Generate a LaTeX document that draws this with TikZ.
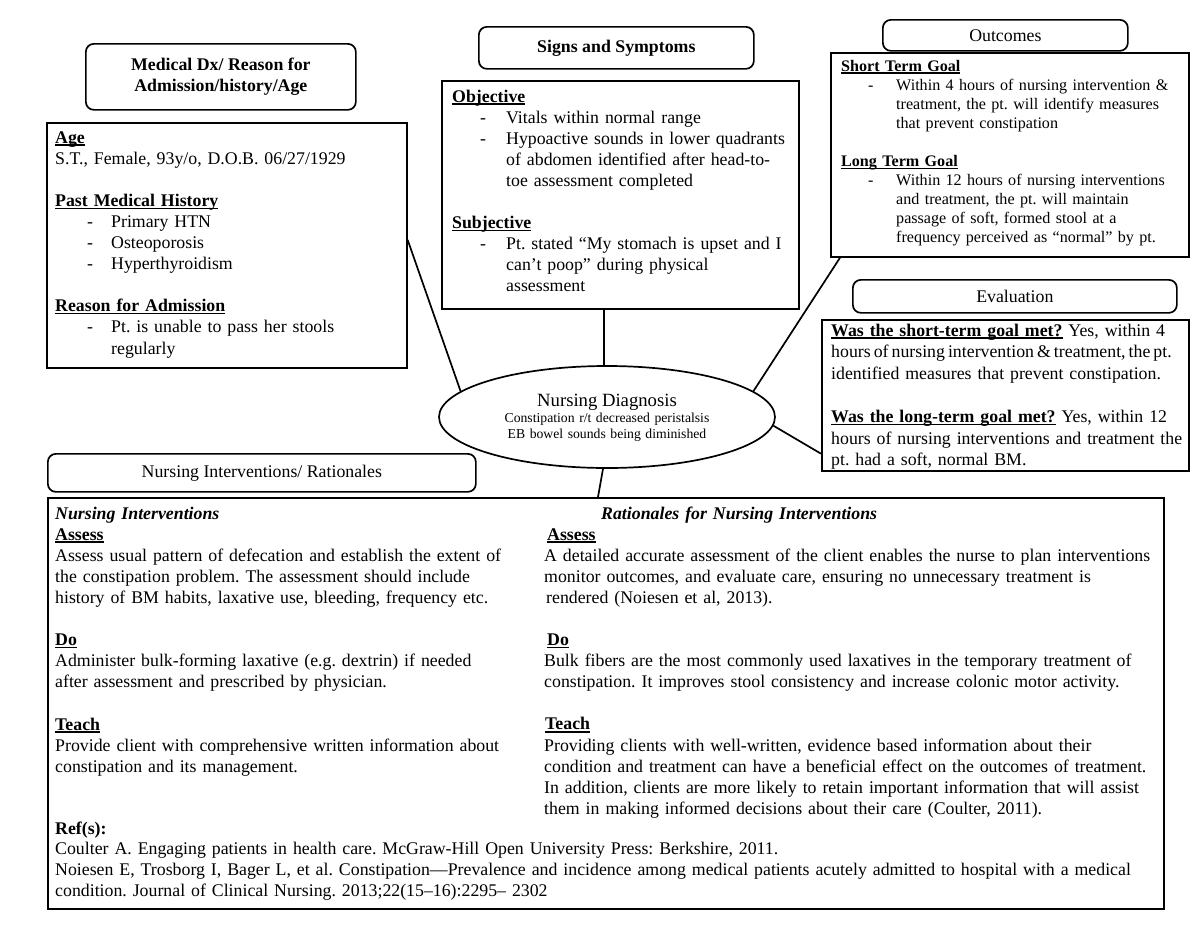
\documentclass[tikz,border=0pt]{standalone}
\usepackage{fontspec}
\setmainfont{Liberation Serif}
\usetikzlibrary{shapes.geometric}
\newcommand\fsN{\fontsize{17.8}{21.1}\selectfont}
\newcommand\fsO{\fontsize{16.1}{19.1}\selectfont}
\newcommand\fsS{\fontsize{13.7}{16}\selectfont}
\newcommand\fsD{\fontsize{18.7}{21}\selectfont}
\newcommand\ulin[1]{\setbox0\hbox{#1}\rlap{\rule[-2.6pt]{\wd0}{1.4pt}}\box0}
\newcommand\itmA[1]{\makebox[56pt][l]{\hspace*{32pt}-}#1}
\newcommand\itmS[1]{\makebox[54pt][l]{\hspace*{28pt}-}#1}
\newcommand\itmO[1]{\makebox[55pt][l]{\hspace*{27pt}-}#1}
\tikzset{
  box/.style={draw, line width=1.7pt, inner sep=0pt, anchor=north west},
  hdr/.style={draw, fill=white, line width=1.7pt, rounded corners=8pt, inner sep=0pt, anchor=north west, align=center, font=\fsN},
  txt/.style={inner sep=0pt, anchor=base west, align=left, font=\fsN, text width=1000pt},
  con/.style={line width=1.7pt},
}
\begin{document}
\begin{tikzpicture}[x=1pt,y=-1pt]
\frenchspacing
\fill[white] (0,0) rectangle (1200,927);
\useasboundingbox (0,0) rectangle (1200,927);

% content boxes
\node[box, minimum width=360pt, minimum height=245pt] (lbox) at (46,122) {};
\node[box, minimum width=357pt, minimum height=228pt] (sbox) at (441,80) {};
\node[box, minimum width=358pt, minimum height=204pt] (obox) at (830,52) {};
\node[box, minimum width=367pt, minimum height=151pt] (ebox) at (821,319) {};
\node[box, minimum width=1116pt, minimum height=411pt] (bbox) at (47,497) {};

% headers
\node[hdr, minimum width=270pt, minimum height=66pt] (h1) at (85,43) {\bfseries Medical Dx/ Reason for\\\bfseries Admission/history/Age};
\node[hdr, minimum width=275pt, minimum height=42pt] (h2) at (478,26) {\bfseries Signs and Symptoms};
\node[hdr, minimum width=245pt, minimum height=31pt] (h3) at (882,19) {Outcomes};
\node[hdr, minimum width=324pt, minimum height=33pt] (h4) at (852,279) {Evaluation};
\node[hdr, minimum width=428pt, minimum height=38pt] (h5) at (47,453) {Nursing Interventions/ Rationales};

% ellipse
\node[ellipse, draw, line width=1.7pt, fill=white, minimum width=336pt, minimum height=102pt, inner sep=0pt] (diag) at (607,417) {};
\node[inner sep=0pt, anchor=base, align=center, font=\fsS, text width=320pt] (dtxt) at (607,406)
  {{\fsD Nursing Diagnosis}\\Constipation r/t decreased peristalsis\\EB bowel sounds being diminished};

% connectors
\draw[con] ([yshift=-118pt]lbox.north east) -- (diag.170);
\draw[con] ([xshift=-3pt]diag.north) -- ([xshift=-3pt]diag.north |- sbox.south);
\draw[con] ([xshift=10pt]obox.south west) -- (diag.10);
\draw[con] (diag.-3) -- ([yshift=18pt]ebox.south west);
\draw[con] ([xshift=-4pt]diag.south) -- ([xshift=-9pt]diag.south |- bbox.north);

% left box text
\node[txt] (tl) at (55,143) {\textbf{\ulin{Age}}\\
S.T., Female, 93y/o, D.O.B. 06/27/1929\\[21.1pt]
\textbf{\ulin{Past Medical History}}\\
\itmA{Primary HTN}\\
\itmA{Osteoporosis}\\
\itmA{Hyperthyroidism}\\[21.1pt]
\textbf{\ulin{Reason for Admission}}\\
\itmA{Pt. is unable to pass her stools}\\
\hspace*{56pt}regularly};

% signs text
\node[txt] (ts) at (452,102) {\textbf{\ulin{Objective}}\\
\itmS{Vitals within normal range}\\
\itmS{Hypoactive sounds in lower quadrants}\\
\hspace*{54pt}of abdomen identified after head-to-\\
\hspace*{54pt}toe assessment completed\\[21.1pt]
\textbf{\ulin{Subjective}}\\
\itmS{Pt. stated “My stomach is upset and I}\\
\hspace*{54pt}can’t poop” during physical\\
\hspace*{54pt}assessment};

% outcomes text
\node[txt, font=\fsO] (to) at (841,71) {\textbf{\ulin{Short Term Goal}}\\
\itmO{Within 4 hours of nursing intervention \&}\\
\hspace*{55pt}treatment, the pt. will identify measures\\
\hspace*{55pt}that prevent constipation\\[19.1pt]
\textbf{\ulin{Long Term Goal}}\\
\itmO{Within 12 hours of nursing interventions}\\
\hspace*{55pt}and treatment, the pt. will maintain\\
\hspace*{55pt}passage of soft, formed stool at a\\
\hspace*{55pt}frequency perceived as “normal” by pt.};

% evaluation text
\node[txt, font=\fontsize{17.8}{21.6}\selectfont] (te) at (831,336) {\textbf{\ulin{Was the short-term goal met?}} Yes, within 4\\
{\spaceskip=0.17em hours of nursing intervention \& treatment, the pt.}\\
identified measures that prevent constipation.\\[21.6pt]
\textbf{\ulin{Was the long-term goal met?}} Yes, within 12\\
hours of nursing interventions and treatment the\\
pt. had a soft, normal BM.};

% bottom left
\node[txt] (tb1) at (55,519) {\textbf{\itshape Nursing Interventions}\\
\textbf{\ulin{Assess}}\\
Assess usual pattern of defecation and establish the extent of\\
the constipation problem. The assessment should include\\
history of BM habits, laxative use, bleeding, frequency etc.\\[21.1pt]
\textbf{\ulin{Do}}\\
Administer bulk-forming laxative (e.g. dextrin) if needed\\
after assessment and prescribed by physician.\\[21.1pt]
\textbf{\ulin{Teach}}\\
Provide client with comprehensive written information about\\
constipation and its management.};

% bottom right
\node[txt] (tb2h) at (601,519) {\textbf{\itshape Rationales for Nursing Interventions}};
\node[txt] (tb2) at (544,540) {\hspace*{3pt}\textbf{\ulin{Assess}}\\
A detailed accurate assessment of the client enables the nurse to plan interventions\\
monitor outcomes, and evaluate care, ensuring no unnecessary treatment is\\
\hspace*{2pt}rendered (Noiesen et al, 2013).\\[21.1pt]
\hspace*{3pt}\textbf{\ulin{Do}}\\
Bulk fibers are the most commonly used laxatives in the temporary treatment of\\
constipation. It improves stool consistency and increase colonic motor activity.\\[21.1pt]
\hspace*{1pt}\textbf{\ulin{Teach}}\\
Providing clients with well-written, evidence based information about their\\
condition and treatment can have a beneficial effect on the outcomes of treatment.\\
In addition, clients are more likely to retain important information that will assist\\
them in making informed decisions about their care (Coulter, 2011).};

% references
\node[txt, font=\fontsize{17.8}{20.7}\selectfont, text width=1100pt] (tr) at (55,834) {\textbf{Ref(s):}\\
Coulter A. Engaging patients in health care. McGraw-Hill Open University Press: Berkshire, 2011.\\
Noiesen E, Trosborg I, Bager L, et al. Constipation—Prevalence and incidence among medical patients acutely admitted to hospital with a medical\\
condition. Journal of Clinical Nursing. 2013;22(15–16):2295– 2302};
\end{tikzpicture}
\end{document}
